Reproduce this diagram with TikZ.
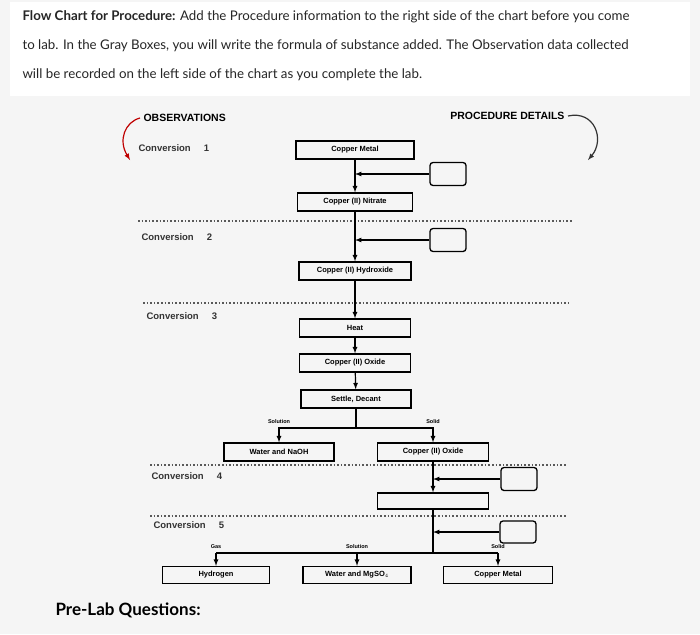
\documentclass[tikz,border=0pt]{standalone}
\usepackage{fontspec}
\setmainfont{Liberation Sans}
\newfontfamily\lato{Lato}
\begin{document}
\begin{tikzpicture}[x=1pt,y=-1pt,
 bx/.style={draw,line width=1.3pt,minimum height=18pt,font=\bfseries\fontsize{7.5}{8}\selectfont,inner sep=1pt},
 sb/.style={draw,line width=1.3pt,rounded corners=3pt,minimum width=36pt,minimum height=23pt},
 ln/.style={line width=1.2pt},
 ar/.style={line width=1.2pt,-latex},
 dl/.style={dotted,line width=1.6pt,gray!70!black},
 cv/.style={anchor=west,font=\bfseries\fontsize{9.5}{10}\selectfont,text=black!80},
 lb/.style={font=\bfseries\fontsize{5.5}{6}\selectfont,anchor=south}]
\fill[gray!8] (0,0) rectangle (700,634);
\useasboundingbox (0,0) rectangle (700,634);
\fill[white] (10,2) rectangle (690,96);
\node[anchor=west,align=left,font=\lato\fontsize{13.3}{29}\selectfont,text=black!85] (hdr) at (19,46)
 {\textbf{Flow Chart for Procedure:} Add the Procedure information to the right side of the chart before you come\\
 to lab. In the Gray Boxes, you will write the formula of substance added. The Observation data collected\\
 will be recorded on the left side of the chart as you complete the lab.};
\node[anchor=west,font=\bfseries\fontsize{10.5}{11}\selectfont] (obs) at (140,118) {OBSERVATIONS};
\node[anchor=east,font=\bfseries\fontsize{10.5}{11}\selectfont] (pd) at (568,116) {PROCEDURE DETAILS};
\draw[red!75!black,line width=1.2pt,-latex] (obs.west) .. controls (125,122) and (118,140) .. (130,160);
\draw[black!80,line width=1.2pt,-latex] (pd.east) .. controls (595,110) and (605,140) .. (588,160);
% conversions
\node[cv] (c1) at (135,148) {Conversion\hspace{13pt}1};
\node[cv] (c2) at (138,237) {Conversion\hspace{13pt}2};
\node[cv] (c3) at (143,316) {Conversion\hspace{13pt}3};
\node[cv] (c4) at (148,476) {Conversion\hspace{13pt}4};
\node[cv] (c5) at (150,525) {Conversion\hspace{13pt}5};
% dotted lines
\coordinate (d1a) at (138,221); \coordinate (d1b) at (573,221);
\coordinate (d2a) at (143,303); \coordinate (d2b) at (570,303);
\coordinate (d3a) at (150,465); \coordinate (d3b) at (566,465);
\coordinate (d4a) at (150,516); \coordinate (d4b) at (566,516);
\draw[dl] (d1a)--(d1b); \draw[dl] (d2a)--(d2b); \draw[dl] (d3a)--(d3b); \draw[dl] (d4a)--(d4b);
% main column
\node[bx,minimum width=118pt] (cm) at (355,150) {Copper Metal};
\node[bx,minimum width=115pt] (cn) at (355,202) {Copper (II) Nitrate};
\node[bx,minimum width=112pt] (ch) at (355,271) {Copper (II) Hydroxide};
\node[bx,minimum width=111pt] (ht) at (355,328) {Heat};
\node[bx,minimum width=111pt] (co) at (355,363) {Copper (II) Oxide};
\node[bx,minimum width=110pt] (sd) at (356,399) {Settle, Decant};
\node[sb] (s1) at (448,174) {};
\node[sb] (s2) at (448,240) {};
\draw[ar] (cm) -- (cn);
\draw[ar] (cn) -- (ch);
\draw[ar] (ch) -- (ht);
\draw[ar] (ht) -- (co);
\draw[ar] (co) -- (sd);
\draw[ar] (s1.west) -- (s1.west -| cm.south);
\draw[ar] (s2.west) -- (s2.west -| cm.south);
% split
\node[bx,minimum width=110pt] (wn) at (279,452) {Water and NaOH};
\node[bx,minimum width=111pt] (co2) at (433,452) {Copper (II) Oxide};
\coordinate (sp) at (356,428);
\draw[ln] (sd) -- (sp);
\draw[ar] (sp) -| (wn);
\draw[ar] (sp) -| (co2);
\node[lb] at (279,427) {Solution};
\node[lb] at (433,427) {Solid};
\node[bx,minimum width=111pt,minimum height=16pt] (bl) at (433,501) {};
\node[sb] (s3) at (519,479) {};
\node[sb,minimum height=22pt] (s4) at (518,532) {};
\draw[ar] (co2) -- (bl);
\draw[ar] (s3.west) -- (s3.west -| co2.south);
\coordinate (sp2) at (433,553);
\draw[ln] (bl) -- (sp2);
\draw[ar] (s4.west) -- (s4.west -| co2.south);
\node[bx,minimum width=107pt,minimum height=17pt] (hy) at (216,575) {Hydrogen};
\node[bx,minimum width=108pt,minimum height=17pt] (wm) at (357,575) {Water and MgSO$_4$};
\node[bx,minimum width=109pt,minimum height=17pt] (cu) at (498,575) {Copper Metal};
\draw[ln] (hy.north |- sp2) -- (cu.north |- sp2);
\draw[ar] (hy.north |- sp2) -- (hy);
\draw[ar] (wm.north |- sp2) -- (wm);
\draw[ar] (cu.north |- sp2) -- (cu);
\node[lb] at (216,552) {Gas};
\node[lb] at (357,552) {Solution};
\node[lb] at (498,552) {Solid};
\node[anchor=west,font=\lato\bfseries\fontsize{17}{19}\selectfont] (pl) at (52,610) {Pre-Lab Questions:};
\end{tikzpicture}
\end{document}
